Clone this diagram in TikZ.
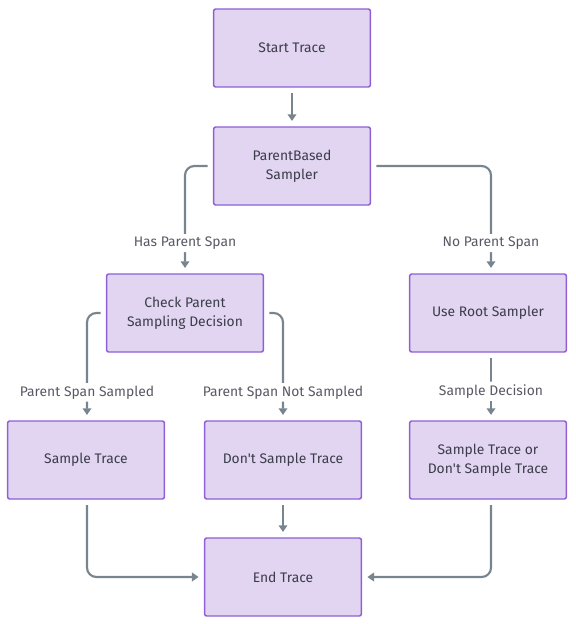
\documentclass[tikz,border=0pt]{standalone}
\usepackage{fontspec}
\setmainfont{Fira Sans}
\usepackage{tikz}
\usetikzlibrary{arrows.meta}

\definecolor{boxfill}{HTML}{E1D5F2}
\definecolor{boxline}{HTML}{8F5FD6}
\definecolor{linkgray}{HTML}{78858E}
\definecolor{textgray}{HTML}{3C3C4A}

\tikzset{
  flowbox/.style={draw=boxline, fill=boxfill, line width=1.1pt, rounded corners=1.5pt,
    minimum width=117.5pt, minimum height=58.5pt, align=center, text=textgray,
    font=\fontsize{10.4}{14.2}\selectfont},
  link/.style={draw=linkgray, line width=1.6pt, rounded corners=7pt,
    shorten <=4pt, shorten >=4pt, -{Triangle[length=5pt,width=6.5pt]}},
  linklabel/.style={fill=white, text=textgray!85, inner sep=2pt,
    font=\fontsize{10.4}{12}\selectfont}
}

\begin{document}
\begin{tikzpicture}[x=0.75pt,y=-0.75pt]
  \useasboundingbox (0,0) rectangle (575,624);

  % Define the boxes of the flow
  \node[flowbox] (start)  at (292,48)  {Start Trace};
  \node[flowbox] (parent) at (292,166) {ParentBased\\Sampler};
  \node[flowbox] (check)  at (185,313) {Check Parent\\Sampling Decision};
  \node[flowbox] (root)   at (488,313) {Use Root Sampler};
  \node[flowbox] (sample) at (86,460)  {Sample Trace};
  \node[flowbox] (nosamp) at (283,460) {Don\textquotesingle t Sample Trace};
  \node[flowbox] (either) at (488,460) {Sample Trace or\\Don\textquotesingle t Sample Trace};
  \node[flowbox] (finish) at (283,577) {End Trace};

  % Draw the connectors
  \draw[link] (start) -- (parent);
  \draw[link] (parent.west) -| node[linklabel, pos=0.86] {Has Parent Span} (check.north);
  \draw[link] (parent.east) -| node[linklabel, pos=0.86] {No Parent Span} ([xshift=2.25pt]root.north);
  \draw[link] (check.west) -| node[linklabel, pos=0.87] {Parent Span Sampled} ([xshift=0.75pt]sample.north);
  \draw[link] (check.east) -| node[linklabel, pos=0.87] {Parent Span Not Sampled} (nosamp.north);
  \draw[link] ([xshift=2.25pt]root.south) -- node[linklabel, pos=0.57] {Sample Decision} ([xshift=2.25pt]either.north);
  \draw[link] ([xshift=0.75pt]sample.south) |- (finish.west);
  \draw[link] (nosamp) -- (finish);
  \draw[link] ([xshift=2.25pt]either.south) |- (finish.east);
\end{tikzpicture}
\end{document}
